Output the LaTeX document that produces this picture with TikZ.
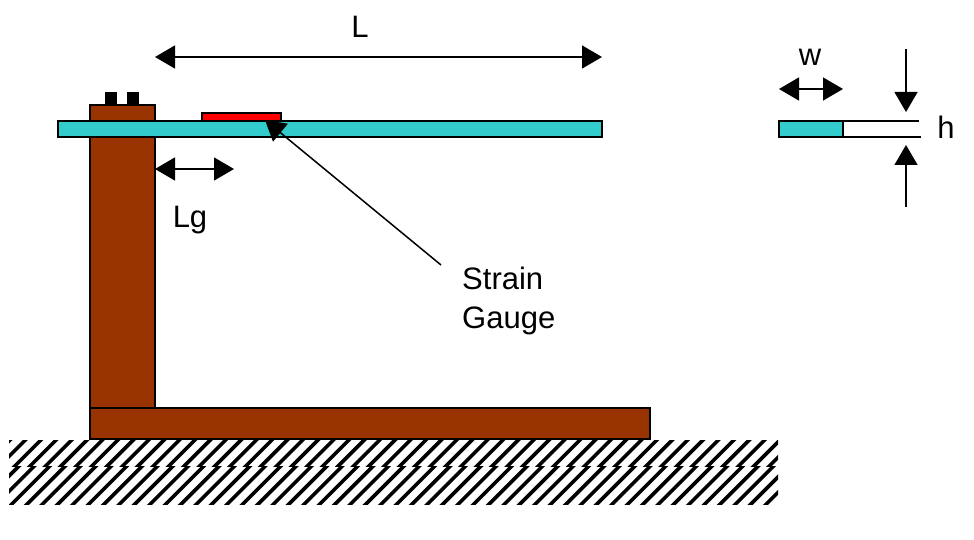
\documentclass[tikz,border=0pt]{standalone}
\usepackage{fontspec}
\setmainfont{Liberation Sans}
\usetikzlibrary{arrows.meta}
\definecolor{brownc}{RGB}{153,51,0}
\definecolor{tealc}{RGB}{51,204,204}
\tikzset{
  block/.style={draw=black,line width=1.5pt,inner sep=0pt,outer sep=0pt,anchor=north west},
  brownblock/.style={block,fill=brownc},
  tealblock/.style={block,fill=tealc},
  dim/.style={line width=1.5pt,{Triangle[length=20pt,width=23pt]}-{Triangle[length=20pt,width=23pt]}},
  pointer/.style={line width=1.5pt,-{Triangle[length=20pt,width=23pt]}},
  lbl/.style={font=\fontsize{31}{37}\selectfont,inner sep=0pt},
  hatchline/.style={line width=3.6pt,black}
}
\begin{document}
\begin{tikzpicture}[x=1pt,y=-1pt]
\useasboundingbox (0,0) rectangle (974,540);
% ground hatching
\begin{scope}
\clip (9,440) rectangle (778,466);
\foreach \i in {0,...,56}{\draw[hatchline] ({-20+15.4*\i},470) -- ({20+15.4*\i},430);}
\end{scope}
\begin{scope}
\clip (9,466.5) rectangle (778,504);
\foreach \i in {0,...,56}{\draw[hatchline] ({-25+15.4*\i},510) -- ({25+15.4*\i},460);}
\end{scope}
% stand
\node[brownblock,minimum width=65pt,minimum height=303pt] (column) at (90,105) {};
\node[brownblock,minimum width=560pt,minimum height=31pt] (base) at (90,408) {};
% bolts
\node[block,fill=black,minimum width=10pt,minimum height=12pt] (bolta) at (106,93) {};
\node[block,fill=black,minimum width=10pt,minimum height=12pt] (boltb) at (128,93) {};
% gauge and beam
\node[block,fill=red,minimum width=79pt,minimum height=8pt] (gauge) at (202,113) {};
\node[tealblock,minimum width=544pt,minimum height=16pt] (beam) at (58,121) {};
% section
\node[tealblock,minimum width=64pt,minimum height=16pt] (section) at (779,121) {};
\coordinate (sectop) at (919,121);
\coordinate (secbot) at (921,137);
\draw[line width=1.5pt] (section.north east) -- (sectop);
\draw[line width=1.5pt] (section.south east) -- (secbot);
% dimension ends
\coordinate (La) at (155,57); \coordinate (Lb) at (602,57);
\coordinate (Lga) at (155,169); \coordinate (Lgb) at (234,169);
\coordinate (wa) at (779,89); \coordinate (wb) at (843,89);
\coordinate (hta) at (906,49); \coordinate (htb) at (906,112);
\coordinate (hba) at (906,207); \coordinate (hbb) at (906,145);
\coordinate (gaugetail) at (441,265); \coordinate (gaugetip) at (265,120);
\draw[dim] (La) -- (Lb);
\draw[dim] (Lga) -- (Lgb);
\draw[dim] (wa) -- (wb);
\draw[pointer] (hta) -- (htb);
\draw[pointer] (hba) -- (hbb);
\draw[pointer] (gaugetail) -- (gaugetip);
% labels
\node[lbl] (Ltext) at (360,27) {L};
\node[lbl] (Lgtext) at (190,220) {Lg};
\node[lbl] (wtext) at (810,57) {w};
\node[lbl] (htext) at (946,127) {h};
\node[lbl,anchor=base west] (stext) at (462,289.5) {Strain};
\node[lbl,anchor=base west] (gtext) at (462,328.5) {Gauge};
\end{tikzpicture}
\end{document}
